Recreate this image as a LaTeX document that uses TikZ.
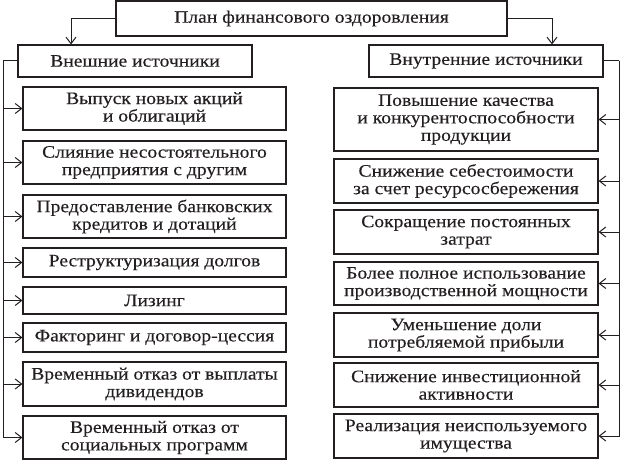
\documentclass[tikz,border=0pt]{standalone}
\usepackage{fontspec}
\setmainfont{Liberation Serif}[FakeStretch=1.12,FakeBold=0.3]
\usetikzlibrary{arrows.meta}
\definecolor{ink}{RGB}{35,31,32}
\begin{document}
\begin{tikzpicture}[x=1pt,y=-1pt,
  box/.style={draw=ink, line width=1.1pt, inner sep=0pt, align=center, text=ink,
    font=\fontsize{17.5}{17.5}\selectfont},
  lbox/.style={box, minimum width=263pt},
  rbox/.style={box, minimum width=264pt},
  conn/.style={draw=ink, line width=1pt},
  arr/.style={conn, -{Straight Barb[length=6.5pt,width=10pt,line width=1pt]}}]
\useasboundingbox (0,0) rectangle (621,460);
% top
\node[box, minimum width=391pt, minimum height=35pt] (top) at (311.5,18.5) {План финансового оздоровления};
\node[box, minimum width=234pt, minimum height=32pt] (ext) at (135,61) {Внешние источники};
\node[box, minimum width=234pt, minimum height=32pt] (int) at (486,61) {Внутренние источники};
% left column
\node[lbox, minimum height=43pt] (l1) at (154.5,108.5) {Выпуск новых акций\\и облигаций};
\node[lbox, minimum height=43pt] (l2) at (154.5,162.5) {Слияние несостоятельного\\предприятия с другим};
\node[lbox, minimum height=43pt] (l3) at (154.5,216.5) {Предоставление банковских\\кредитов и дотаций};
\node[lbox, minimum height=29pt] (l4) at (154.5,262.5) {Реструктуризация долгов};
\node[lbox, minimum height=27pt] (l5) at (154.5,300.5) {Лизинг};
\node[lbox, minimum height=29pt] (l6) at (154.5,337.5) {Факторинг и договор-цессия};
\node[lbox, minimum height=44pt] (l7) at (154.5,384) {Временный отказ от выплаты\\дивидендов};
\node[lbox, minimum height=43pt] (l8) at (154.5,437.5) {Временный отказ от\\социальных программ};
% right column
\node[rbox, minimum height=63pt] (r1) at (466,119.5) {Повышение качества\\и конкурентоспособности\\продукции};
\node[rbox, minimum height=44pt] (r2) at (466,181) {Снижение себестоимости\\за счет ресурсосбережения};
\node[rbox, minimum height=44pt] (r3) at (466,232) {Сокращение постоянных\\затрат};
\node[rbox, minimum height=43pt] (r4) at (466,283.5) {Более полное использование\\производственной мощности};
\node[rbox, minimum height=44pt] (r5) at (466,335) {Уменьшение доли\\потребляемой прибыли};
\node[rbox, minimum height=44pt] (r6) at (466,385) {Снижение инвестиционной\\активности};
\node[rbox, minimum height=44pt] (r7) at (466,436) {Реализация неиспользуемого\\имущества};
% connectors from top
\draw[arr] (top.west) -| (ext.north -| 71,0);
\draw[arr] (top.east) -| (int.north -| 552,0);
% left tree
\coordinate (lx) at (3,61);
\draw[conn] (ext.west) -- (lx);
\foreach \n in {l1,l2,l3,l4,l5,l6,l7,l8}{
  \draw[arr] (lx) |- (\n.west);
}
% right tree
\coordinate (rx) at (619,61);
\draw[conn] (int.east) -- (rx);
\foreach \n in {r1,r2,r3,r4,r5,r6,r7}{
  \draw[arr] (rx) |- (\n.east);
}
\end{tikzpicture}
\end{document}
